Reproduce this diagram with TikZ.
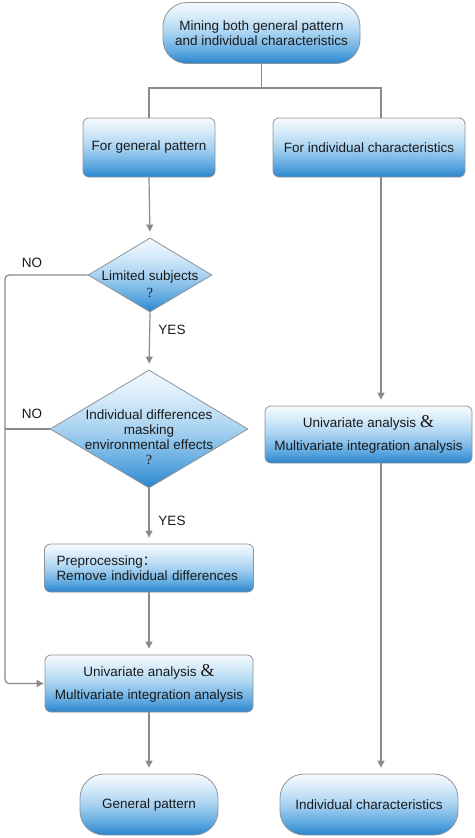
\documentclass[tikz,border=0pt]{standalone}
\usepackage{fontspec}
\setmainfont{Liberation Sans}
\newfontfamily\serifamp{Liberation Serif}
\newfontfamily\cjk{Noto Sans CJK SC}
\usetikzlibrary{shapes.geometric,arrows.meta}
\definecolor{cB}{HTML}{2A84CC}
\definecolor{cM1}{HTML}{5FA9E0}
\definecolor{cM2}{HTML}{A8D2F1}
\definecolor{cM3}{HTML}{D4EAF9}
\definecolor{cT}{HTML}{F5FAFE}
\definecolor{bordergray}{HTML}{8E9399}
\definecolor{linegray}{HTML}{8A8A8A}
\definecolor{txt}{HTML}{1A1A1A}
\pgfdeclareverticalshading{boxshade}{100bp}{color(0bp)=(cB); color(25bp)=(cB); color(35bp)=(cM1); color(50bp)=(cM2); color(63bp)=(cM3); color(75bp)=(cT); color(100bp)=(cT)}
\begin{document}
\begin{tikzpicture}[x=1pt,y=-1pt,
  box/.style={draw=bordergray, line width=0.8pt, shading=boxshade, rounded corners=6pt, inner sep=0pt,
    font=\fontsize{13.5}{15.5}\selectfont, text=txt, align=center},
  pill/.style={box, rounded corners=24pt},
  dia/.style={diamond, draw=bordergray, line width=0.8pt, shading=boxshade, inner sep=0pt},
  dtext/.style={font=\fontsize{13.5}{15}\selectfont, text=txt, align=center, inner sep=0pt},
  lbl/.style={font=\fontsize{13.5}{15}\selectfont, text=txt, inner sep=0pt},
  conn/.style={draw=linegray, line width=1.2pt},
  arr/.style={conn, -{Triangle[length=7pt,width=7pt]}, shorten >=6pt}
]
\useasboundingbox (0,0) rectangle (474,838);

% nodes
\node[pill, minimum width=197pt, minimum height=61pt] (top) at (261.5,33) {Mining both general pattern\\and individual characteristics};
\node[box, minimum width=132pt, minimum height=59pt] (gp) at (149,147.5) {For general pattern};
\node[box, minimum width=192pt, minimum height=59pt] (ic) at (369,147.5) {For individual characteristics};

\node[dia, minimum width=124pt, minimum height=74pt] (d1) at (150,275) {};
\node[dtext] (d1t) at (150,284) {Limited subjects\\[2pt]{\serifamp\fontsize{14}{15}\selectfont ?}};

\node[dia, minimum width=198pt, minimum height=118pt] (d2) at (149,429) {};
\node[dtext] (d2t) at (149,437) {Individual differences\\masking\\environmental effects\\{\serifamp\fontsize{14}{15}\selectfont ?}};

\node[box, minimum width=208pt, minimum height=48pt, text width=185pt, inner xsep=12pt, align=left] (pre) at (149,568) {Preprocessing{\cjk ：}\\Remove individual differences};

\node[box, minimum width=208pt, minimum height=57pt] (ua1) at (149,683.5) {Univariate analysis {\serifamp\fontsize{18}{18}\selectfont\&}\\[7pt]Multivariate integration analysis};
\node[box, minimum width=207pt, minimum height=57pt] (ua2) at (368.5,434.5) {Univariate analysis {\serifamp\fontsize{18}{18}\selectfont\&}\\[7pt]Multivariate integration analysis};

\node[pill, minimum width=138pt, minimum height=61pt] (gpat) at (149,804.5) {General pattern};
\node[pill, minimum width=178pt, minimum height=61pt] (ichar) at (369,804.5) {Individual characteristics};

\node[lbl] (no1) at (32,263) {NO};
\node[lbl] (no2) at (32,414) {NO};
\node[lbl] (yes1) at (172,330) {YES};
\node[lbl] (yes2) at (172,521) {YES};

% coordinates
\coordinate (jL) at (149,88);
\coordinate (jR) at (381,88);
\coordinate (lx) at (5,0);
\coordinate (rx) at (381,0);

% connectors
\draw[conn] (top.south) -- (top.south |- jL);
\draw[conn] (gp.north) -- (jL) -- (jR) -- (jR |- ic.north);
\draw[arr] (gp.south) -- (d1.north);
\draw[arr] (d1.south) -- (d2.north);
\draw[arr] (d2.south) -- (pre.north);
\draw[arr] (pre.south) -- (ua1.north);
\draw[arr] (ua1.south) -- (gpat.north);
\draw[arr] (rx |- ic.south) -- (rx |- ua2.north);
\draw[arr] (rx |- ua2.south) -- (rx |- ichar.north);
\draw[conn, rounded corners=4pt, -{Triangle[length=7pt,width=7pt]}, shorten >=1pt] (d1.west) -| (lx |- ua1.west) -- (ua1.west);
\draw[conn] (d2.west) -- (lx |- d2.west);
\end{tikzpicture}
\end{document}
